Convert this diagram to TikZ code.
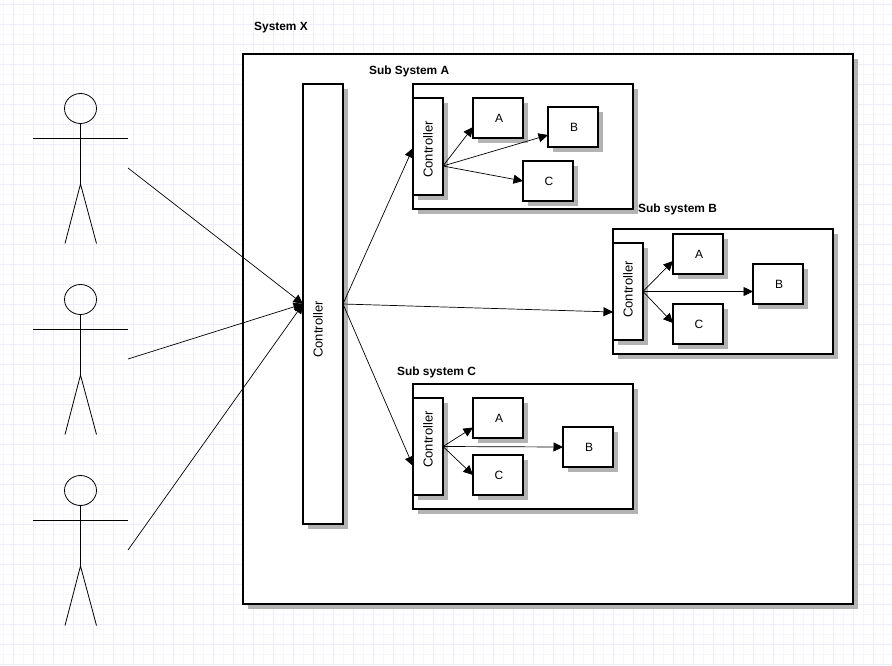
\documentclass[tikz,border=0pt]{standalone}
\usepackage{fontspec}
\setmainfont{Liberation Sans}
\usetikzlibrary{arrows.meta,shadows,shapes.geometric}

\definecolor{gridmajor}{HTML}{ECECFA}
\definecolor{gridminor}{HTML}{F6F6FD}
\definecolor{shadowgray}{HTML}{B3B3B3}

\tikzset{
  boxed/.style={draw,line width=2pt,fill=white,inner sep=0pt,outer sep=0pt,
    general shadow={shadow xshift=5pt,shadow yshift=-5pt,fill=shadowgray}},
  leaf/.style={boxed,minimum width=50pt,minimum height=40pt,
    font=\fontsize{12}{14}\selectfont,execute at begin node=\hspace{2pt}},
  ctrl/.style={boxed,minimum width=30pt,minimum height=97pt},
  panel/.style={boxed,minimum width=220pt,minimum height=125pt},
  ctrltext/.style={rotate=90,inner sep=0pt,font=\fontsize{13}{15}\selectfont},
  caption/.style={anchor=west,inner sep=0pt,font=\fontsize{11.9}{14}\selectfont\bfseries},
  flow/.style={line width=0.7pt,-{Triangle[length=9.5pt,width=9pt]}},
  actorline/.style={line width=0.8pt}
}

\begin{document}
\begin{tikzpicture}[x=1pt,y=-1pt]
\useasboundingbox (0,0) rectangle (892,665);
% background grid
\foreach \gx in {3.5,23.5,...,883.5} \draw[gridminor,line width=1pt] (\gx,0) -- (\gx,665);
\foreach \gy in {14.5,34.5,...,654.5} \draw[gridminor,line width=1pt] (0,\gy) -- (892,\gy);
\foreach \gx in {13.5,33.5,...,873.5} \draw[gridmajor,line width=1pt] (\gx,0) -- (\gx,665);
\foreach \gy in {4.5,24.5,...,664.5} \draw[gridmajor,line width=1pt] (0,\gy) -- (892,\gy);

% system box
\node[boxed,minimum width=610pt,minimum height=550pt] (sysX) at (548,329) {};
\node[caption] (sysXlabel) at (254,28) {System X};
\node[boxed,minimum width=40pt,minimum height=440pt] (mainCtrl) at (323,304) {};
\node[ctrltext] (mainText) at (318,329.5) {Controller};

% sub system A
\node[caption] (subAlabel) at (369,71) {Sub System A};
\node[panel] (subA) at (523,146.5) {};
\node[ctrl] (ctrlA) at (428,146.5) {};
\node[ctrltext] (ctrlAtext) at (428,149.5) {Controller};
\node[leaf] (aA) at (498,118) {A};
\node[leaf] (aB) at (573,127) {B};
\node[leaf] (aC) at (548,181) {C};

% sub system B
\node[caption] (subBlabel) at (638,209) {Sub system B};
\node[panel] (subB) at (723,291.5) {};
\node[ctrl] (ctrlB) at (628,291.5) {};
\node[ctrltext] (ctrlBtext) at (628,289.5) {Controller};
\node[leaf] (bA) at (698,254) {A};
\node[leaf] (bB) at (778,284) {B};
\node[leaf] (bC) at (698,324) {C};

% sub system C
\node[caption] (subClabel) at (397,372) {Sub system C};
\node[panel] (subC) at (523,446.5) {};
\node[ctrl] (ctrlC) at (428,446.5) {};
\node[ctrltext] (ctrlCtext) at (428,439.5) {Controller};
\node[leaf] (cA) at (498,418) {A};
\node[leaf] (cB) at (588,447) {B};
\node[leaf] (cC) at (498,475) {C};

% actors
\foreach \i/\off in {1/0,2/191,3/382}{
  \node[draw,actorline,ellipse,minimum width=32pt,minimum height=30pt,inner sep=0pt,outer sep=0pt] (head\i) at (80.5,108.5+\off) {};
  \coordinate (hip\i) at (80.5,184+\off);
  \coordinate (handL\i) at (33,138.5+\off);
  \coordinate (handR\i) at (128,138.5+\off);
  \coordinate (footL\i) at (65,243.5+\off);
  \coordinate (footR\i) at (96.5,243.5+\off);
  \coordinate (hook\i) at (128,168+\off);
  \draw[actorline] (head\i.south) -- (hip\i);
  \draw[actorline] (handL\i) -- (handR\i);
  \draw[actorline] (footL\i) -- (hip\i) -- (footR\i);
  \draw[flow] (hook\i) -- (mainCtrl.west);
}

% connectors
\draw[flow] (mainCtrl.east) -- ([yshift=-1.5pt]ctrlA.west);
\draw[flow] (mainCtrl.east) -- ([yshift=-20.5pt]ctrlB.west);
\draw[flow] (mainCtrl.east) -- ([yshift=-19.5pt]ctrlC.west);

\draw[flow] ([yshift=-19.5pt]ctrlA.east) -- ([yshift=-9pt]aA.west);
\draw[flow] ([yshift=-19.5pt]ctrlA.east) -- ([yshift=-8pt]aB.west);
\draw[flow] ([yshift=-19.5pt]ctrlA.east) -- (aC.west);

\draw[flow] (ctrlB.east) -- ([yshift=-7pt]bA.west);
\draw[flow] (ctrlB.east) -- ([yshift=-7.5pt]bB.west);
\draw[flow] (ctrlB.east) -- ([yshift=1pt]bC.west);

\draw[flow] (ctrlC.east) -- ([yshift=-9.5pt]cA.west);
\draw[flow] (ctrlC.east) -- (cB.west);
\draw[flow] (ctrlC.east) -- (cC.west);
\end{tikzpicture}
\end{document}
